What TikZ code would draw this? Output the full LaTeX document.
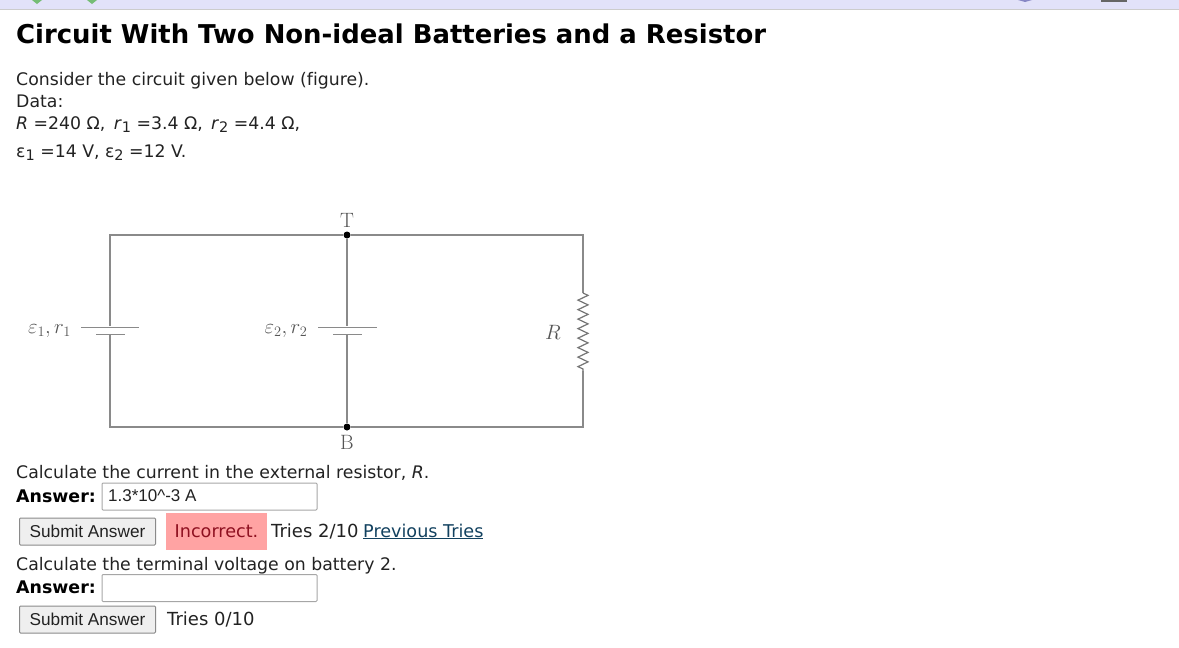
\documentclass[tikz,border=0pt]{standalone}
\usepackage[no-math]{fontspec}
\setmainfont[Ligatures=NoCommon]{DejaVu Sans}
\newfontfamily\btnfont{Liberation Sans}
\usetikzlibrary{
  arrows.meta,
  decorations.pathmorphing,
  positioning
}
\definecolor{barblue}{HTML}{E2E2F9}
\definecolor{wiregray}{HTML}{8A8A8A}
\definecolor{inktext}{HTML}{222222}
\definecolor{labelgray}{HTML}{555555}
\definecolor{btnfill}{HTML}{EFEFEF}
\definecolor{btnedge}{HTML}{8A8A8A}
\definecolor{badfill}{HTML}{FFA3A3}
\definecolor{badtext}{HTML}{8E1020}
\definecolor{linkblue}{HTML}{12415F}
\newcommand{\lowsub}[1]{\raisebox{-3.5pt}{\fontsize{14.5}{15}\selectfont #1}}
\tikzset{
  line/.style={anchor=base west,inner sep=0pt,text=inktext,font=\fontsize{17.3}{20}\selectfont},
  answerlabel/.style={line,text=black,font=\fontsize{17.4}{20}\selectfont\bfseries},
  wire/.style={draw=wiregray,line width=1.2pt},
  plate/.style={rectangle,fill=wiregray,inner sep=0pt,minimum height=1.6pt},
  junction/.style={circle,fill=black,inner sep=0pt,minimum size=7pt},
  circlabel/.style={inner sep=0pt,text=labelgray,font=\fontsize{20}{22}\selectfont},
  inputbox/.style={rectangle,draw=black!35,rounded corners=1pt,line width=1pt,fill=white,minimum width=215pt,minimum height=27pt,inner sep=0pt},
  submitbtn/.style={rectangle,draw=btnedge,rounded corners=1pt,line width=1pt,fill=btnfill,minimum width=136pt,minimum height=27pt,inner sep=0pt,font=\btnfont\fontsize{17.2}{19}\selectfont,text=inktext}
}
\begin{document}
\begin{tikzpicture}[x=1pt,y=-1pt]
  \useasboundingbox (0,0) rectangle (1179,648);
  % browser bar
  \fill[barblue] (0,0) rectangle (1179,9);
  \draw[black!20,line width=1pt] (0,9.5) -- (1179,9.5);
  \fill[green!35!gray!80] (32,0) -- (42,0) -- (37,4) -- cycle;
  \fill[green!35!gray!80] (87,0) -- (97,0) -- (92,4) -- cycle;
  \fill[blue!35!gray!70] (1018,0) -- (1032,0) -- (1025,2) -- cycle;
  \fill[black!60] (1101,0) rectangle (1127,2);

  % text above the circuit
  \node[line,text=black,font=\fontsize{25.9}{30}\selectfont\bfseries] (title) at (16,43.5) {Circuit With Two Non-ideal Batteries and a Resistor};
  \node[line] (intro) at (16,85) {Consider the circuit given below (figure).};
  \node[line] (data) at (16,107) {Data:};
  \node[line] (vals1) at (16,129) {\textit{R} =240 Ω,\, \textit{r}\lowsub{1} =3.4 Ω,\, \textit{r}\lowsub{2} =4.4 Ω,};
  \node[line] (vals2) at (16,157) {ε\lowsub{1} =14 V, ε\lowsub{2} =12 V.};

  % circuit
  \coordinate (tl) at (110,235);
  \coordinate (tr) at (583,235);
  \coordinate (bl) at (110,427);
  \coordinate (br) at (583,427);
  \node[junction] (T) at (347,235) {};
  \node[junction] (B) at (347,427) {};
  \node[plate,minimum width=58pt] (long1) at (110,327.3) {};
  \node[plate,minimum width=29pt] (short1) at (110,334.3) {};
  \node[plate,minimum width=59pt] (long2) at (347,327.3) {};
  \node[plate,minimum width=29pt] (short2) at (347,334.3) {};
  \coordinate (rtop) at (583,293);
  \coordinate (rbot) at (583,371);
  \draw[wire] (T) -- (tl) -- (long1);
  \draw[wire] (short1) -- (bl) -- (B);
  \draw[wire] (T) -- (long2);
  \draw[wire] (short2) -- (B);
  \draw[wire] (T) -- (tr) -- (rtop);
  \draw[wire] (B) -- (br) -- (rbot);
  \draw[wire,draw=wiregray!85!black,decorate,decoration={zigzag,amplitude=5pt,segment length=9.5pt}] (rtop) -- (rbot);
  \node[circlabel] (lblT) at (347,220) {$\mathrm{T}$};
  \node[circlabel] (lblB) at (347,442) {$\mathrm{B}$};
  \node[circlabel] (lbl1) at (49.5,331) {$\varepsilon_1,r_1$};
  \node[circlabel] (lbl2) at (286,331) {$\varepsilon_2,r_2$};
  \node[circlabel] (lblR) at (553,332) {$R$};

  % first question
  \node[line] (q1) at (16,478) {Calculate the current in the external resistor, \textit{R}.};
  \node[answerlabel] (ans1) at (16,502) {Answer:};
  \node[inputbox] (box1) at (209.5,496.5) {};
  \node[anchor=base west,inner sep=0pt,text=inktext,font=\btnfont\fontsize{17}{19}\selectfont] (entry1) at (108,501.5) {1.3*10\^{}-3 A};
  \node[submitbtn] (btn1) at (87.5,531.5) {Submit Answer};
  \node[rectangle,fill=badfill,minimum width=101pt,minimum height=37pt,inner sep=0pt,text=badtext,font=\fontsize{17.6}{20}\selectfont] (bad) at (216.5,531.5) {Incorrect.};
  \node[line,font=\fontsize{18}{20}\selectfont] (tries1) at (271,537) {Tries 2/10};
  \node[line,text=linkblue,font=\fontsize{17.6}{20}\selectfont] (prev) at (363,537) {\underline{Previous Tries}};

  % second question
  \node[line] (q2) at (16,570) {Calculate the terminal voltage on battery 2.};
  \node[answerlabel] (ans2) at (16,593) {Answer:};
  \node[inputbox] (box2) at (209.5,588) {};
  \node[submitbtn] (btn2) at (87.5,619.5) {Submit Answer};
  \node[line,font=\fontsize{18}{20}\selectfont] (tries2) at (167,625) {Tries 0/10};
\end{tikzpicture}
\end{document}
